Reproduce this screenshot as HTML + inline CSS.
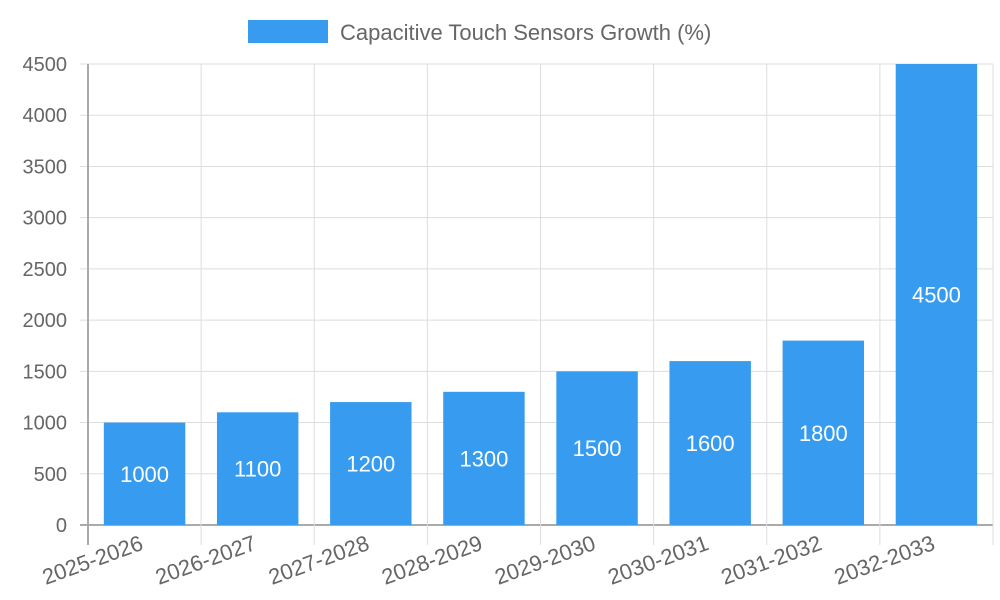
<!DOCTYPE html>
<html><head><meta charset="utf-8"><style>body{margin:0;background:#fff}svg{display:block;font-family:"Liberation Sans",sans-serif}</style></head>
<body>
<svg id="chart" width="1000" height="600" xmlns="http://www.w3.org/2000/svg">
<g>
<rect x="248" y="20" width="80" height="23" fill="#379cf0"/>
<text x="340" y="40" font-size="22" fill="#666">Capacitive Touch Sensors Growth (%)</text>
</g>
<g id="grid"></g>
<g id="bars"></g>
<g id="axes"></g>
</svg>
<script>
const categories=["2025-2026","2026-2027","2027-2028","2028-2029","2029-2030","2030-2031","2031-2032","2032-2033"];
const values=[1000,1100,1200,1300,1500,1600,1800,4500];
const yTicks=[0,500,1000,1500,2000,2500,3000,3500,4000,4500];
const NS="http://www.w3.org/2000/svg";
const L=88,R=993,T=64,B=525,yMax=4500;
const bw=(R-L)/categories.length;
const y=v=>B-(v/yMax)*(B-T);
const x=i=>L+i*bw;
function mk(tag,attrs,parent,txt){const e=document.createElementNS(NS,tag);for(const k in attrs)e.setAttribute(k,attrs[k]);if(txt!==undefined)e.textContent=txt;document.getElementById(parent).appendChild(e);return e;}
yTicks.forEach(t=>{
 const l=mk('line',{x1:L-8,x2:R,y1:y(t),y2:y(t),stroke:t===0?'#aaa':'#ddd','stroke-width':t===0?2:1},'grid');
 
 
 const tx=mk('text',{x:L-21,y:y(t)+7,'text-anchor':'end','font-size':20,fill:'#666'},'axes',String(t));
 
 
});
for(let i=0;i<=categories.length;i++){
 const l=mk('line',{x1:x(i),x2:x(i),y1:T,y2:B+20,stroke:i===0?'#aaa':'#ddd','stroke-width':i===0?2:1},'grid');
 
 
}
categories.forEach((c,i)=>{
 const cx=x(i)+bw/2,w=bw*0.72;
 const r=mk('rect',{x:cx-w/2,y:y(values[i]),width:w,height:B-y(values[i]),fill:'#379cf0'},'bars');
 
 
 const vt=mk('text',{x:cx,y:(y(values[i])+B)/2+8,'text-anchor':'middle','font-size':22,fill:'#fff'},'bars',String(values[i]));
 
 
 const lt=mk('text',{x:cx,y:549,'text-anchor':'end','font-size':22,fill:'#666',transform:`rotate(-20 ${cx} 549)`},'axes',c);
 
 
});
</script>
</body></html>
